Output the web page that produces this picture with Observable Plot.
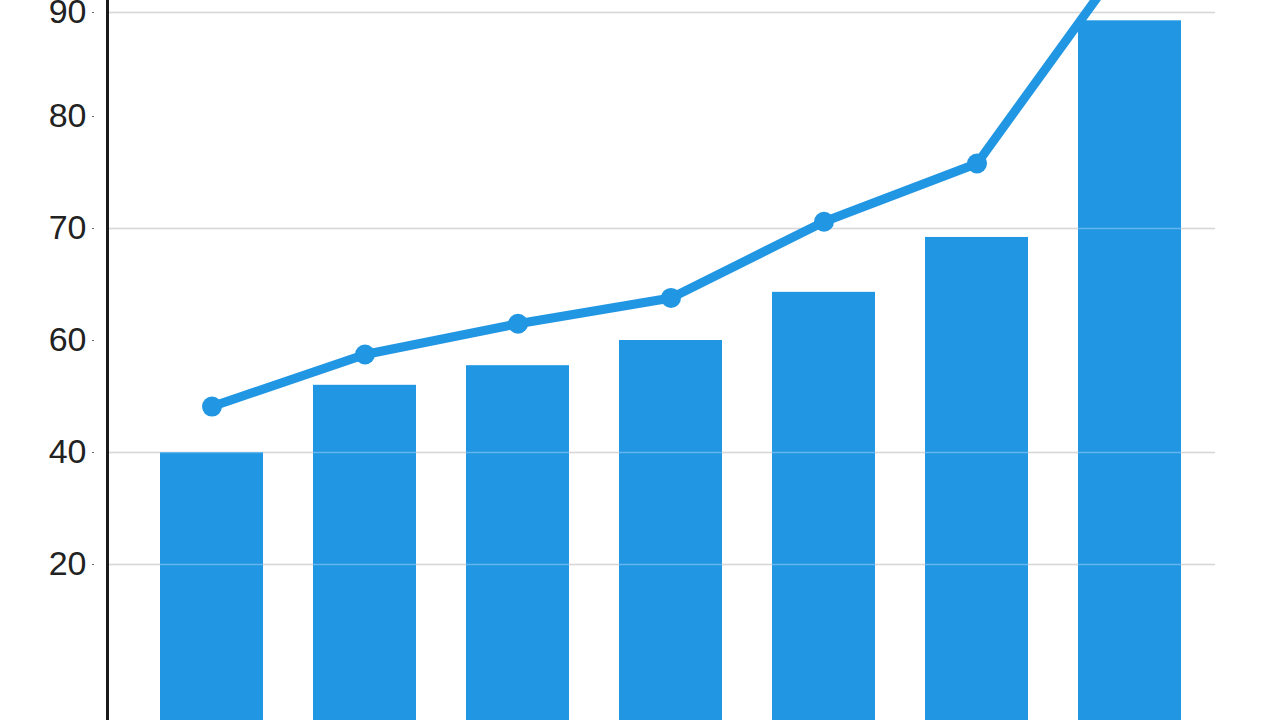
<!DOCTYPE html>
<html>
<head>
<meta charset="utf-8">
<script src="https://cdn.jsdelivr.net/npm/d3@7"></script>
<script src="https://cdn.jsdelivr.net/npm/@observablehq/plot@0.6"></script>
<style>
  html, body { margin: 0; padding: 0; background: #fff; overflow: hidden; }
  #chart svg { display: block; }
</style>
</head>
<body>
<div id="chart"></div>
<script>
const categories = ["1", "2", "3", "4", "5", "6", "7"];
const barValues = [40, 52, 55.5, 60, 64.3, 69.2, 89.2];
const lineValues = [48.2, 57.5, 61.5, 63.8, 70.6, 75.8, 95.8];
const tickLabels = [20, 40, 60, 70, 80, 90];
const gridValues = [20, 40, 70, 90];

const rows = categories.map((c, i) => ({cat: c, bar: barValues[i], line: lineValues[i]}));
const blue = "#2196e3";

const chart = Plot.plot({
  width: 1280,
  height: 720,
  marginLeft: 107,
  marginRight: 65,
  marginTop: 0,
  marginBottom: 0,
  style: {fontFamily: "'Liberation Sans', Arial, sans-serif", background: "#fff"},
  x: {type: "band", domain: categories, range: [107, 1234], paddingInner: 0.33, paddingOuter: 0.34, axis: null},
  y: {type: "linear", domain: [0, 20, 40, 60, 70, 80, 90], range: [780, 564, 452, 340, 228, 116, 12], axis: null},
  marks: [
    Plot.gridY(gridValues, {stroke: "#c8c8c8", strokeOpacity: 1, strokeWidth: 1.5}),
    Plot.barY(rows, {x: "cat", y: "bar", fill: blue}),
    Plot.gridY(gridValues, {stroke: "#ffffff", strokeOpacity: 0.3, strokeWidth: 1.5}),
    Plot.line(rows, {x: "cat", y: "line", stroke: blue, strokeWidth: 9, strokeLinejoin: "round", strokeLinecap: "round"}),
    Plot.dot(rows, {x: "cat", y: "line", r: 10, fill: blue, stroke: "none"}),
    Plot.axisY(tickLabels, {tickSize: 2, tickPadding: 6, dx: -13, fontSize: 34, color: "#222", stroke: "#666", tickFormat: d => String(d)}),
    Plot.frame({anchor: "left", stroke: "#1a1a1a", strokeWidth: 3})
  ]
});
document.getElementById("chart").appendChild(chart);
</script>
</body>
</html>
